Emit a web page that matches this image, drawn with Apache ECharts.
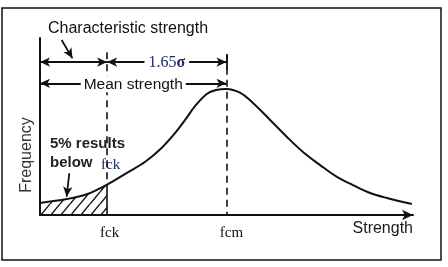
<!DOCTYPE html>
<html><head><meta charset="utf-8">
<script src="https://cdn.jsdelivr.net/npm/echarts@6/dist/echarts.min.js"></script>
<style>html,body{margin:0;padding:0;background:#fff}#c{width:448px;height:267px}</style>
</head><body><div id="c"></div>
<script>
// Strength (x) and frequency (y)
const strengthX  = [0, 7.2, 12.5, 18.0, 23.2, 28.2, 32.6, 36.2, 38.9, 41.6, 44.7, 47.2, 50, 53.6, 57.1, 61.7, 66.2, 70.5, 75.1, 79.6, 83.9, 88.5, 93.0, 99.7];
const frequencyY = [6.8, 9.0, 11.7, 17.2, 23.7, 30.1, 37.9, 46.3, 53.7, 61.6, 68.4, 70.6, 71.2, 69.1, 63.3, 53.7, 44.1, 35.6, 28.2, 21.5, 16.9, 12.4, 9.6, 6.2];
const markLabels = ['fck', 'fcm'];
const markX = [18, 50];
const curveAtFck = 17.2;

const curve = strengthX.map((x, i) => [x, frequencyY[i]]);
const tail = curve.filter(p => p[0] <= markX[0]);

function hatch() {
  const c = document.createElement('canvas'); c.width = 10; c.height = 12;
  const g = c.getContext('2d'); g.strokeStyle = '#111'; g.lineWidth = 1.4;
  g.beginPath();
  g.moveTo(-10, 12); g.lineTo(0, 0);
  g.moveTo(0, 12); g.lineTo(10, 0);
  g.moveTo(10, 12); g.lineTo(20, 0);
  g.stroke();
  return c;
}

const navy = '#1c2a66';
const ink = '#111';
const chart = echarts.init(document.getElementById('c'));
chart.setOption({
  animation: false,
  backgroundColor: '#fff',
  grid: { left: 40, right: 35, top: 38, bottom: 52 },
  xAxis: {
    type: 'value', min: 0, max: 100,
    axisLine: { lineStyle: { color: ink, width: 2 }, symbol: ['none', 'arrow'], symbolSize: [8, 11] },
    axisTick: { show: false }, splitLine: { show: false },
    axisLabel: {
      customValues: markX, margin: 11,
      formatter: v => { const i = markX.indexOf(v); return i === 0 ? '{a|' + markLabels[0] + '}' : '{b|' + markLabels[1] + '}'; },
      rich: {
        a: { fontFamily: 'Liberation Serif', fontSize: 15, color: ink, padding: [0, 0, 0, 5] },
        b: { fontFamily: 'Liberation Serif', fontSize: 15, color: ink, padding: [0, 0, 0, 10] }
      }
    },
    name: 'Strength', nameLocation: 'end', nameGap: 0,
    nameTextStyle: { fontFamily: 'Liberation Sans', fontSize: 16, color: '#1a1a1a', align: 'right', verticalAlign: 'top', padding: [6, 0, 0, 0] }
  },
  yAxis: {
    type: 'value', min: 0, max: 100,
    axisLine: { show: true, lineStyle: { color: ink, width: 2 } },
    axisTick: { show: false }, axisLabel: { show: false }, splitLine: { show: false }
  },
  series: [
    {
      type: 'line', data: tail, smooth: 0.35, symbol: 'none',
      lineStyle: { width: 0 },
      areaStyle: { color: { image: hatch(), repeat: 'repeat' }, opacity: 1 },
      markLine: {
        silent: true, symbol: 'none', label: { show: false },
        lineStyle: { color: ink, width: 1.6, type: 'solid' },
        data: [[{ coord: [markX[0], 0] }, { coord: [markX[0], curveAtFck] }]]
      }
    },
    {
      type: 'line', data: curve, smooth: 0.35, symbol: 'none',
      lineStyle: { color: ink, width: 2 }, z: 5
    },
    {
      type: 'line', data: [],
      markLine: {
        silent: true, symbol: 'none', label: { show: false },
        lineStyle: { color: ink, width: 1.6, type: [7, 5] },
        data: [
          [{ coord: [markX[0], 92] }, { coord: [markX[0], curveAtFck] }],
          [{ coord: [markX[1], 90] }, { coord: [markX[1], 0] }]
        ]
      }
    },
    {
      type: 'line', data: [],
      markLine: {
        silent: true, symbol: ['arrow', 'arrow'], symbolSize: [7, 10], label: { show: false },
        lineStyle: { color: ink, width: 1.8, type: 'solid' },
        data: [
          [{ coord: [0, 86.4] }, { coord: [markX[0], 86.4] }],
          [{ coord: [markX[0], 86.4],
             label: { show: true, position: 'middle', distance: -9, formatter: '{n|1.65}{s|σ}', backgroundColor: '#fff', padding: [0, 4],
               rich: { n: { fontFamily: 'Liberation Serif', fontSize: 16, color: navy }, s: { fontFamily: 'Liberation Serif', fontSize: 16, fontWeight: 'bold', color: navy } } } },
           { coord: [markX[1], 86.4] }],
          [{ coord: [0, 74.4],
             label: { show: true, position: 'middle', distance: -9, formatter: 'Mean strength', backgroundColor: '#fff', padding: [0, 3],
               fontFamily: 'Liberation Sans', fontSize: 15.5, color: '#111' } },
           { coord: [markX[1], 74.4] }],
          [{ coord: [5.8, 98.9], symbol: 'none' }, { coord: [8.7, 88.5] }],
          [{ coord: [7.85, 23.6], symbol: 'none' }, { coord: [7.15, 10.3] }],
          [{ coord: [markX[1], 91], symbol: 'none' }, { coord: [markX[1], 82], symbol: 'none' }]
        ]
      }
    }
  ],
  graphic: [
    { type: 'rect', shape: { x: 2, y: 8, width: 439, height: 252 }, style: { fill: 'none', stroke: ink, lineWidth: 1.5 }, z: 100 },
    { type: 'text', x: 48, y: 29, style: { text: 'Characteristic strength', font: '16px "Liberation Sans"', fill: '#111', verticalAlign: 'middle' } },
    { type: 'text', x: 50, y: 134, style: { text: '5% results\nbelow', font: 'bold 15px "Liberation Sans"', lineHeight: 19, fill: '#222', verticalAlign: 'top' } },
    { type: 'text', x: 101, y: 165, style: { text: 'fck', font: '15px "Liberation Serif"', fill: navy, verticalAlign: 'middle' } },
    { type: 'text', x: 27, y: 155, rotation: Math.PI / 2, style: { text: 'Frequency', font: '16px "Liberation Sans"', fill: '#333', align: 'center', verticalAlign: 'middle' } }
  ]
});
</script></body></html>
